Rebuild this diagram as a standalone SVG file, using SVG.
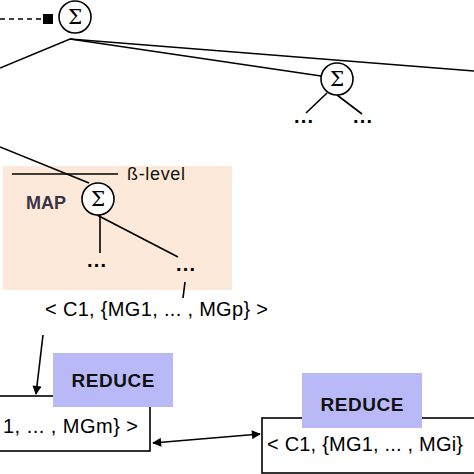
<svg xmlns="http://www.w3.org/2000/svg" width="474" height="474" viewBox="0 0 474 474">
<style>
.ln{stroke:#000;stroke-width:1.6;fill:none}
.sig{fill:#fff;stroke:#000;stroke-width:1.6}
.sigt{font-family:"DejaVu Serif","Liberation Serif",serif;font-size:20px;text-anchor:middle;fill:#000}
.dots{font-family:"Liberation Sans",Arial,sans-serif;font-size:20px;font-weight:bold;fill:#000}
.t{font-family:"Liberation Sans",Arial,sans-serif;font-size:20px;fill:#000}
.rd{font-family:"Liberation Sans",Arial,sans-serif;font-size:19px;font-weight:bold;fill:#111;text-anchor:middle}
.box{fill:#fff;stroke:#000;stroke-width:1.6}
.red{fill:#b9b9f7}
</style>
<defs>
<marker id="ah" viewBox="0 0 10 10" refX="9" refY="5" markerWidth="10" markerHeight="9" markerUnits="userSpaceOnUse" orient="auto-start-reverse">
<path d="M0,0 L10,5 L0,10 z" fill="#000"/>
</marker>
</defs>
<rect id="map-region" x="3" y="166" width="229" height="124" fill="#fce9d9"/>
<g id="connectors">
<line x1="0" y1="19" x2="43" y2="19" class="ln" stroke-dasharray="5,4"/>
<rect x="43" y="14" width="10" height="10" fill="#000"/>
<polyline points="0,68 70,39 474,71" class="ln"/>
<line x1="70" y1="39" x2="321" y2="76" class="ln"/>
<line x1="327" y1="93" x2="306" y2="113" class="ln"/>
<line x1="337" y1="95" x2="362" y2="114" class="ln"/>
<line x1="0" y1="147" x2="89" y2="183" class="ln"/>
<line x1="12" y1="174" x2="118" y2="174" class="ln"/>
<line x1="97" y1="215" x2="178" y2="257" class="ln"/>
<line x1="100" y1="215" x2="100" y2="253" class="ln"/>
<line x1="185" y1="282" x2="183" y2="298" class="ln"/>
<line x1="43" y1="335" x2="36" y2="394" class="ln" marker-end="url(#ah)"/>
<line x1="153" y1="443" x2="260" y2="434" class="ln" marker-start="url(#ah)" marker-end="url(#ah)"/>
</g>
<g id="sigma-top">
<circle cx="75" cy="17" r="16" class="sig"/>
<text x="75" y="24" class="sigt">Σ</text>
</g>
<g id="sigma-right">
<circle cx="337" cy="79" r="16" class="sig"/>
<text x="337" y="86" class="sigt">Σ</text>
<text x="294" y="123" class="dots" textLength="19" lengthAdjust="spacing">...</text>
<text x="353" y="123" class="dots" textLength="19" lengthAdjust="spacing">...</text>
</g>
<g id="map">
<text x="26" y="209" font-family="Liberation Sans,Arial,sans-serif" font-size="18" font-weight="bold" fill="#3b3346">MAP</text>
<text x="127" y="180" font-family="Liberation Sans,Arial,sans-serif" font-size="18" fill="#111" textLength="58">ß-level</text>
<circle cx="98" cy="199" r="16" class="sig"/>
<text x="98" y="206" class="sigt">Σ</text>
<text x="87" y="267" class="dots" textLength="19" lengthAdjust="spacing">...</text>
<text x="176" y="271" class="dots" textLength="19" lengthAdjust="spacing">...</text>
</g>
<g id="map-output">
<text x="45" y="316" class="t" textLength="223">&lt; C1, {MG1, ... , MGp}  &gt;</text>
</g>
<g id="reduce-left">
<rect x="-5" y="396" width="155" height="55" class="box"/>
<rect x="53" y="353" width="120" height="54" class="red"/>
<text x="113" y="387" class="rd" textLength="83">REDUCE</text>
<text x="3" y="433" class="t" textLength="135">1, ... , MGm}  &gt;</text>
</g>
<g id="reduce-right">
<rect x="262" y="418" width="220" height="55" class="box"/>
<rect x="302" y="373" width="120" height="55" class="red"/>
<text x="362" y="411" class="rd" textLength="83">REDUCE</text>
<text x="267" y="451" class="t" textLength="196">&lt; C1, {MG1, ... , MGi}</text>
</g>
</svg>
